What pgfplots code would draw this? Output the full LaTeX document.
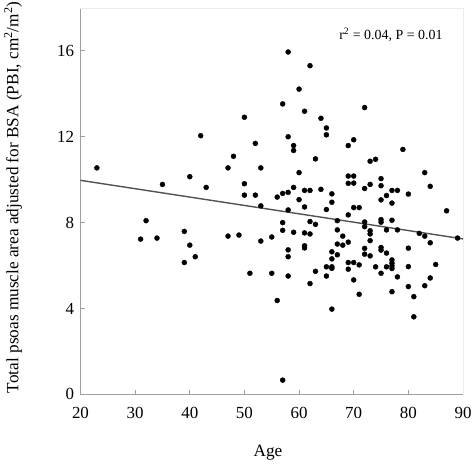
\documentclass[border=0pt]{standalone}
\usepackage{fontspec}
\setmainfont{Liberation Serif}
\usepackage{pgfplots}
\pgfplotsset{compat=1.18}

\pgfplotstableread{
age pbi
23 10.55
35 9.78
40 10.14
42 12.05
43 9.64
32 8.09
31 7.23
34 7.28
39 7.59
40 6.95
41 6.41
39 6.14
58 15.95
62 15.31
60 14.22
57 13.53
61 13.19
50 12.91
64 12.86
65 12.41
65 12.09
58 12.00
59 11.59
59 11.36
52 11.69
48 11.09
63 10.97
47 10.55
53 10.55
60 10.33
50 9.81
50 9.28
52 9.28
56 9.19
57 9.36
58 9.41
59 9.64
61 9.50
62 9.50
64 9.55
66 9.34
60 9.07
66 8.95
61 8.73
53 8.78
58 8.59
65 8.61
57 8.00
62 8.05
63 7.92
57 7.64
59 7.55
61 7.52
62 7.47
47 7.37
49 7.42
55 7.33
53 7.14
61 6.92
61 6.82
58 6.73
58 6.41
66 6.64
66 6.31
65 5.94
66 5.94
66 5.87
51 5.64
55 5.64
58 5.51
63 5.73
65 5.51
62 5.16
56 4.37
66 3.97
57 0.66
72 13.36
69 11.59
70 11.86
79 11.41
73 10.86
74 10.95
69 10.17
70 10.17
69 9.83
70 9.84
75 10.05
75 9.72
72 9.59
73 9.78
83 10.33
84 9.69
77 9.50
78 9.50
76 9.26
75 9.06
80 9.33
77 8.91
70 8.70
71 8.70
69 8.36
87 8.55
72 8.03
75 8.14
75 8.02
77 8.11
67 8.09
72 7.81
67 7.66
68 7.37
67 7.00
68 6.95
69 7.09
73 7.62
73 7.47
73 7.16
76 7.66
78 7.66
82 7.50
83 7.37
84 7.06
89 7.28
72 6.80
72 6.53
73 6.45
75 6.84
75 6.72
76 6.58
80 6.81
67 6.50
69 6.14
70 6.14
71 6.03
69 5.83
70 5.33
71 4.66
74 5.94
75 5.64
76 5.94
77 6.26
77 6.11
77 5.98
77 5.86
78 5.47
77 4.78
80 5.95
80 5.02
81 4.55
83 5.06
84 5.42
85 6.05
81 3.61
}\psoas

\begin{document}
\begin{tikzpicture}
\begin{axis}[
    at={(0,0)}, anchor=south west,
    width=382.5bp, height=386.3bp,
    scale only axis,
    xmin=20, xmax=90,
    ymin=0, ymax=18,
    xtick={20,30,40,50,60,70,80,90},
    xticklabels={20,30,40,50,60,70,80,90},
    ytick={0,4,8,12,16},
    yticklabels={0,4,8,12,16},
    axis lines*=left,
    axis line style={color=black!38, line width=0.9bp},
    tick style={color=black!38, line width=0.9bp},
    tick align=inside,
    major tick length=4.5bp,
    ticklabel style={font=\rmfamily\fontsize{17}{20}\selectfont},
    xticklabel style={yshift=-9bp},
    yticklabel style={xshift=-3bp},
    xlabel={Age},
    ylabel={Total psoas muscle area adjusted for BSA (PBI, cm\textsuperscript{2}/m\textsuperscript{2})},
    label style={font=\rmfamily\fontsize{17.3}{20}\selectfont},
    xlabel style={at={(axis description cs:0.49,-0.152)}, anchor=center},
    ylabel style={at={(axis description cs:-0.1765,0.51)}, anchor=center},
    clip=false,
]
\draw[black!8, line width=0.9bp] (rel axis cs:0,1) -- (rel axis cs:1,1) -- (rel axis cs:1,0);
\addplot[only marks, mark=*, mark size=2.5bp, color=black] table[x=age, y=pbi] {\psoas};
\addplot[no marks, color=black!68, line width=1.4bp] coordinates {(20,9.97) (90,7.24)};
\node[anchor=east, inner sep=0pt, font=\rmfamily\fontsize{14}{16}\selectfont] at (axis cs:86.3,16.75) {r\textsuperscript{2} = 0.04, P = 0.01};
\end{axis}
\pgfresetboundingbox
\path (-80.5bp,-71.7bp) rectangle (393.5bp,394.3bp);
\end{tikzpicture}
\end{document}
